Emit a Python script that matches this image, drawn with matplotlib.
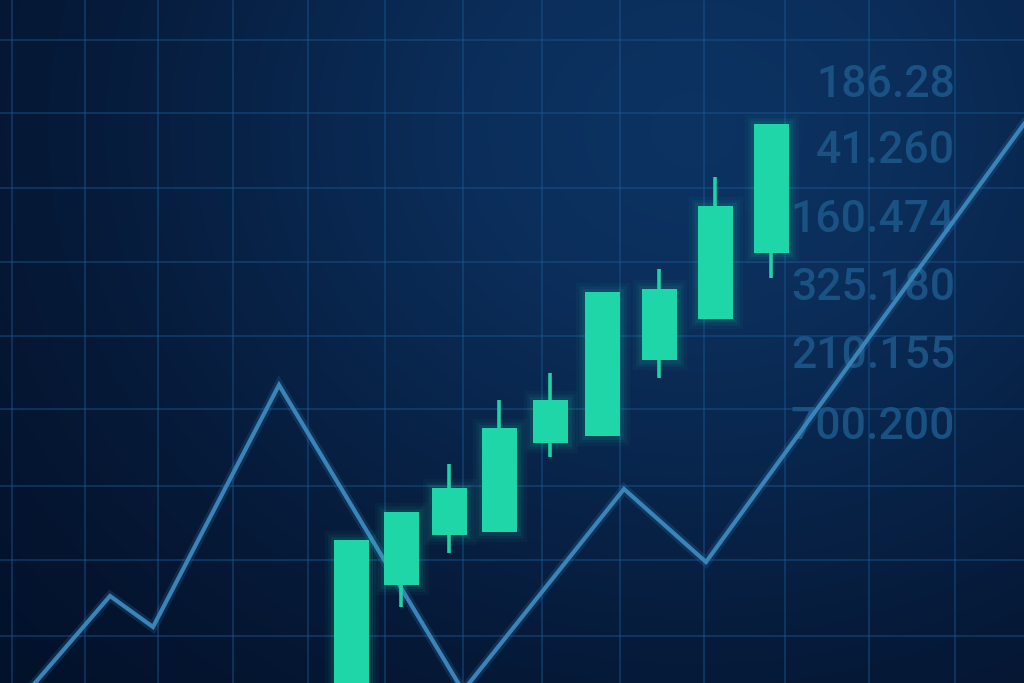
import numpy as np
import matplotlib
matplotlib.use("Agg")
import matplotlib.pyplot as plt
import matplotlib.patheffects as pe

# ---- data ----
candle_x = [351, 401, 449, 499, 550, 602, 659, 715, 771]
candle_open = [-37, 98, 148, 151, 240, 247, 323, 364, 430]
candle_close = [143, 171, 195, 255, 283, 391, 394, 477, 559]
candle_high = [143, 171, 219, 283, 310, 391, 414, 506, 559]
candle_low = [-37, 76, 130, 151, 226, 247, 305, 364, 405]

line_x = [35, 110, 153, 279, 463, 624, 706, 1024]
line_y = [0, 87, 56, 298, -8, 194, 121, 559]

price_labels = ["186.28", "41.260", "160.474", "325.180", "210.155", "700.200"]
label_y = [586, 520, 451, 383, 315, 244]

grid_x = [12, 85, 158, 233, 308, 385, 463, 542, 620, 704, 785, 869, 955]
grid_y = [47, 123, 197, 274, 347, 421, 495, 570, 643]

W, H = 1024, 683
fig = plt.figure(figsize=(10.24, 6.83), dpi=100)
ax = fig.add_axes([0, 0, 1, 1])
ax.set_xlim(0, W)
ax.set_ylim(0, H)

# background gradient
yy, xx = np.mgrid[0:H, 0:W]
dx = (xx - 640) / 820.0
dy = (yy - 130) / 700.0
w = np.exp(-(dx ** 2 + dy ** 2) * 1.9)
w = w * (0.72 + 0.28 * xx / W)
dark = np.array([3, 15, 38]) / 255.0
bright = np.array([13, 54, 104]) / 255.0
img = dark[None, None, :] + (bright - dark)[None, None, :] * w[..., None]
ax.imshow(img, extent=(0, W, 0, H), origin="upper", aspect="auto", zorder=0)

# grid
ax.set_xticks(grid_x)
ax.set_yticks(grid_y)
ax.grid(True, color="#1a5a96", alpha=0.42, linewidth=1.4, zorder=1)
ax.tick_params(length=0, labelbottom=False, labelleft=False)
for s in ax.spines.values():
    s.set_visible(False)

# price labels
for t, y in zip(price_labels, label_y):
    ax.text(955, y, t, ha="right", va="baseline", fontsize=32, fontweight="medium",
            family=["Roboto", "DejaVu Sans"], color="#1b5586", alpha=0.95, zorder=2)

# line with glow
ax.plot(line_x, line_y, color="#3b84b8", lw=3.0, solid_joinstyle="miter",
        zorder=4,
        path_effects=[pe.Stroke(linewidth=7, foreground="#2f78b0", alpha=0.22), pe.Normal()])

# candles: glow
co = np.array(candle_open)
cc = np.array(candle_close)
for lw, a in [(14, 0.04), (9, 0.06), (5, 0.08)]:
    ax.bar(candle_x, cc - co, bottom=co, width=35, color="none",
           edgecolor="#22e0b0", linewidth=lw, alpha=a, zorder=5)
ax.vlines(candle_x, candle_low, candle_high, color="#20d3a6", lw=2.6, zorder=5)
ax.bar(candle_x, cc - co, bottom=co, width=35, color="#1fd6a8",
       edgecolor="none", zorder=6)

fig.savefig("out.png", dpi=100)
